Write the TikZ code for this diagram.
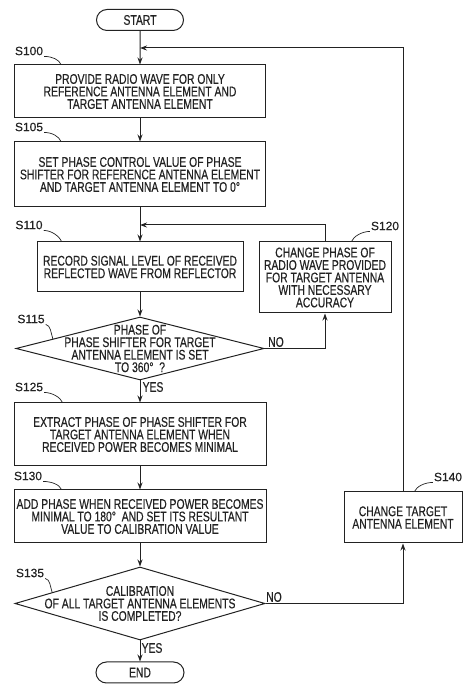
\documentclass[tikz,border=0pt]{standalone}
\usepackage{fontspec}
\setmainfont{Liberation Sans}[FakeStretch=0.74,FakeBold=0.4]
\newfontfamily\stepfont{Liberation Sans}[FakeBold=0.3]
\usepackage{tikz}
\usetikzlibrary{shapes.geometric,shapes.misc,arrows.meta,calc}
\definecolor{FCInk}{HTML}{222222}
\tikzset{
  flowtext/.style={align=center,font=\fontsize{14}{12.5}\selectfont,text=FCInk},
  procbox/.style={flowtext,draw=FCInk,line width=1pt,inner sep=0pt},
  terminal/.style={flowtext,rounded rectangle,draw=FCInk,line width=1pt,minimum height=21pt,inner sep=0pt},
  decision/.style={diamond,draw=FCInk,line width=1pt,inner sep=0pt},
  steplbl/.style={font=\stepfont\fontsize{12}{12}\selectfont,text=FCInk,inner sep=1pt},
  leader/.style={draw=FCInk,line width=0.7pt},
  flowline/.style={draw=FCInk,line width=1pt,-{Stealth[length=7pt,width=5pt]}},
  yesno/.style={flowtext,inner sep=0pt}
}

\begin{document}
\begin{tikzpicture}[x=1pt,y=1pt]
\path[use as bounding box] (0,0) rectangle (474,694);
% main column
\node[terminal,minimum width=87pt] (start) at (140,674) {START};
\node[procbox,minimum width=251pt,minimum height=53pt] (s100) at (140,602.5) {PROVIDE RADIO WAVE FOR ONLY\\REFERENCE ANTENNA ELEMENT AND\\TARGET ANTENNA ELEMENT};
\node[procbox,minimum width=251pt,minimum height=65pt] (s105) at (140,519.5) {SET PHASE CONTROL VALUE OF PHASE\\SHIFTER FOR REFERENCE ANTENNA ELEMENT\\AND TARGET ANTENNA ELEMENT TO 0°};
\node[procbox,minimum width=206pt,minimum height=50pt] (s110) at (140,427) {RECORD SIGNAL LEVEL OF RECEIVED\\REFLECTED WAVE FROM REFLECTOR};
\node[decision,minimum width=248pt,minimum height=63pt,label={[flowtext]center:{PHASE OF\\PHASE SHIFTER FOR TARGET\\ANTENNA ELEMENT IS SET\\TO 360°\ \ ?}}] (s115) at (140,345.5) {};
\node[procbox,minimum width=252pt,minimum height=63pt] (s125) at (140,259.5) {EXTRACT PHASE OF PHASE SHIFTER FOR\\TARGET ANTENNA ELEMENT WHEN\\RECEIVED POWER BECOMES MINIMAL};
\node[procbox,minimum width=252pt,minimum height=53pt] (s130) at (140,177.5) {ADD PHASE WHEN RECEIVED POWER BECOMES\\MINIMAL TO 180°\ \ AND SET ITS RESULTANT\\VALUE TO CALIBRATION VALUE};
\node[decision,minimum width=250pt,minimum height=73pt,label={[flowtext]center:{CALIBRATION\\OF ALL TARGET ANTENNA ELEMENTS\\IS COMPLETED?}}] (s135) at (140,90.5) {};
\node[terminal,minimum width=88pt] (end) at (140,21.5) {END};
% side column
\node[procbox,minimum width=132pt,minimum height=71pt] (s120) at (325,416.5) {CHANGE PHASE OF\\RADIO WAVE PROVIDED\\FOR TARGET ANTENNA\\WITH NECESSARY\\ACCURACY};
\node[procbox,minimum width=118pt,minimum height=51pt] (s140) at (403,176.5) {CHANGE TARGET\\ANTENNA ELEMENT};
% connectors
\coordinate (j1) at (140,646);
\coordinate (j2) at (140,469);
\draw[flowline] (start) -- (s100);
\draw[flowline] (s100) -- (s105);
\draw[flowline] (s105) -- (s110);
\draw[flowline] (s110) -- (s115.north);
\draw[flowline] (s115.south) -- (s125);
\draw[flowline] (s125) -- (s130);
\draw[flowline] (s130) -- (s135.north);
\draw[flowline] (s135.south) -- (end);
\draw[flowline] (s115.east) -| (s120.south);
\draw[flowline] (s120.north) |- (j2);
\draw[flowline] (s135.east) -| (s140.south);
\draw[flowline] (s140.north) |- (j1);
\node[yesno] (no1) at (276,352) {NO};
\node[yesno] (yes1) at (153,307) {YES};
\node[yesno] (no2) at (274,97) {NO};
\node[yesno] (yes2) at (152,46) {YES};
% step numbers
\node[steplbl] (l100) at (29,643) {S100};
\coordinate (t100) at ($(s100.north west)+(47,0)$);
\draw[leader] (l100.south east) .. controls +(8,0) and +(-2,5) .. (t100);
\node[steplbl] (l105) at (29,567) {S105};
\coordinate (t105) at ($(s105.north west)+(47,0)$);
\draw[leader] (l105.south east) .. controls +(8,0) and +(-2,5) .. (t105);
\node[steplbl] (l110) at (29,469) {S110};
\coordinate (t110) at ($(s110.north west)+(25,0)$);
\draw[leader] (l110.south east) .. controls +(8,0) and +(-2,5) .. (t110);
\node[steplbl] (l120) at (385,468) {S120};
\coordinate (t120) at ($(s120.north west)+(93,0)$);
\draw[leader] (l120.south west) .. controls +(-8,0) and +(2,5) .. (t120);
\node[steplbl] (l115) at (31,375) {S115};
\coordinate (t115) at ($(s115.west)!0.3!(s115.north)$);
\draw[leader] (l115.south east) .. controls +(5,-1) and +(-2,6) .. (t115);
\node[steplbl] (l125) at (29,307) {S125};
\coordinate (t125) at ($(s125.north west)+(49,0)$);
\draw[leader] (l125.south east) .. controls +(8,0) and +(-2,5) .. (t125);
\node[steplbl] (l130) at (28,218) {S130};
\coordinate (t130) at ($(s130.north west)+(48,0)$);
\draw[leader] (l130.south east) .. controls +(8,0) and +(-2,5) .. (t130);
\node[steplbl] (l135) at (30,121) {S135};
\coordinate (t135) at ($(s135.west)!0.3!(s135.north)$);
\draw[leader] (l135.south east) .. controls +(5,-1) and +(-2,6) .. (t135);
\node[steplbl] (l140) at (448,217) {S140};
\coordinate (t140) at ($(s140.north west)+(71,0)$);
\draw[leader] (l140.south west) .. controls +(-8,0) and +(2,5) .. (t140);
\end{tikzpicture}
\end{document}
